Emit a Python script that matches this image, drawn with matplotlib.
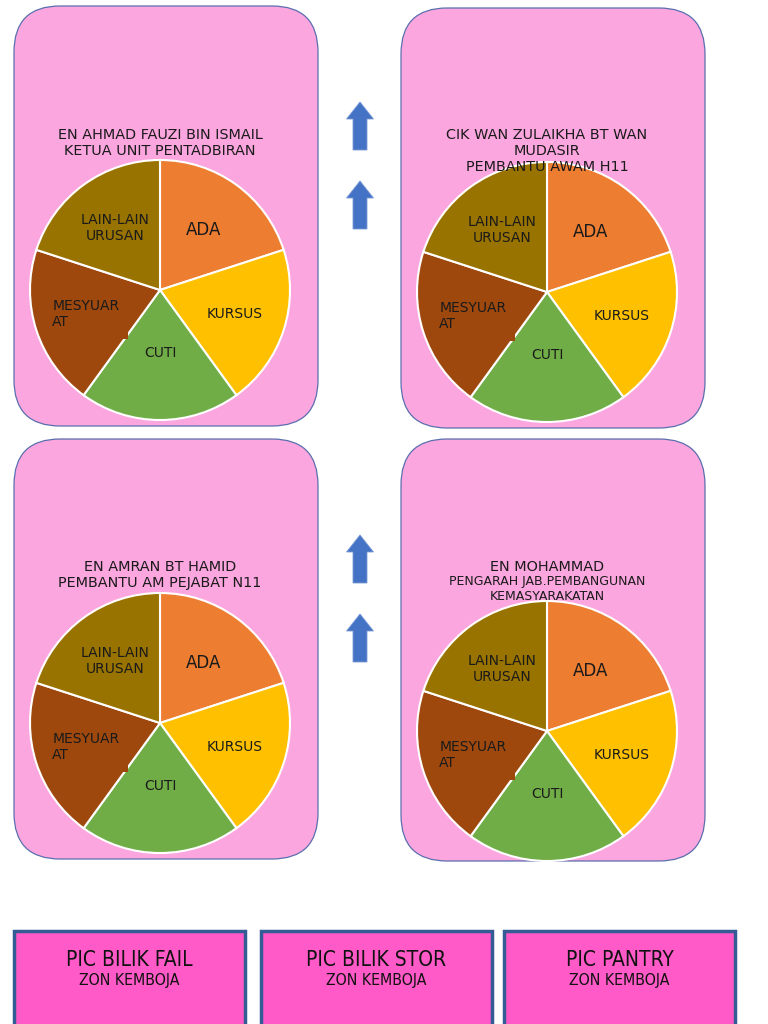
import matplotlib.pyplot as plt
from matplotlib.patches import FancyBboxPatch, FancyArrow, Rectangle

# ---------------- data ----------------
slice_labels = ["ADA", "KURSUS", "CUTI", "MESYUAR\nAT", "LAIN-LAIN\nURUSAN"]
slice_values = [1, 1, 1, 1, 1]
slice_colors = ["#ED7D31", "#FFC000", "#70AD47", "#9E480E", "#997300"]

staff_titles = [
    "EN AHMAD FAUZI BIN ISMAIL\nKETUA UNIT PENTADBIRAN",
    "CIK WAN ZULAIKHA BT WAN\nMUDASIR\nPEMBANTU AWAM H11",
    "EN AMRAN BT HAMID\nPEMBANTU AM PEJABAT N11",
    "EN MOHAMMAD",
]
staff_subtitle_4 = "PENGARAH JAB.PEMBANGUNAN\nKEMASYARAKATAN"

pic_titles = ["PIC BILIK FAIL", "PIC BILIK STOR", "PIC PANTRY"]
pic_zone = "ZON KEMBOJA"

# ---------------- layout (pixels) ----------------
W, H = 768, 1024
fig = plt.figure(figsize=(W / 100, H / 100), dpi=100)
bg = fig.add_axes([0, 0, 1, 1])
bg.set_xlim(0, W)
bg.set_ylim(H, 0)
bg.axis("off")

panels = [(14, 6, 304, 420), (401, 8, 304, 420), (14, 439, 304, 420), (401, 439, 304, 422)]
pie_centers = [(160, 290), (547, 292), (160, 723), (547, 731)]
title_y = [128, 128, 560, 560]
label_dist = [0.57, 0.60, 0.485, 0.60, 0.59]
R = 130

for (x, y, w, h) in panels:
    bg.add_patch(FancyBboxPatch((x, y), w, h, boxstyle="round,pad=0,rounding_size=46",
                                facecolor="#FCA6DF", edgecolor="#5B6FAE", linewidth=0.9))

for i, (cx, cy) in enumerate(pie_centers):
    pax = fig.add_axes([(cx - R) / W, 1 - (cy + R) / H, 2 * R / W, 2 * R / H])
    wedges, texts = pax.pie(slice_values, labels=slice_labels, colors=slice_colors,
                            startangle=90, counterclock=False, labeldistance=1.0,
                            wedgeprops=dict(edgecolor="white", linewidth=1.5))
    for t, d in zip(texts, label_dist):
        px, py = t.get_position()
        t.set_position((px * d, py * d))
        t.set_ha("center")
        t.set_va("center")
        t.set_fontsize(10)
        t.set_color("#1A1A1A")
    texts[0].set_fontsize(12)
    texts[3].set_multialignment("left")
    # small notch seen inside MESYUARAT slice
    pax.add_patch(Rectangle((-0.3, -0.38), 0.05, 0.08, facecolor=slice_colors[3], edgecolor="none"))
    pax.set_xlim(-1, 1)
    pax.set_ylim(-1, 1)

# overlay for names so they sit above the pies
top = fig.add_axes([0, 0, 1, 1])
top.set_xlim(0, W)
top.set_ylim(H, 0)
top.axis("off")
for i, t in enumerate(staff_titles):
    cx = pie_centers[i][0]
    top.text(cx, title_y[i], t, ha="center", va="top", fontsize=10.4,
             color="#1A1A1A", linespacing=1.2)
top.text(pie_centers[3][0], 575, staff_subtitle_4, ha="center", va="top", fontsize=9,
         color="#1A1A1A", linespacing=1.15)

# up arrows between columns
arrow_spans = [(150, 102), (229, 181), (583, 535), (662, 614)]
for (y0, y1) in arrow_spans:
    top.add_patch(FancyArrow(360, y0, 0, y1 - y0, width=14, head_width=27, head_length=17,
                             length_includes_head=True, facecolor="#4472C4",
                             edgecolor="#7C9BD6", linewidth=0.6))

# bottom boxes
boxes = [(14, 931, 231), (261, 931, 231), (504, 931, 231)]
for (x, y, w), t in zip(boxes, pic_titles):
    top.add_patch(Rectangle((x, y), w, 120, facecolor="#FF5AC8", edgecolor="#335C95", linewidth=2.5))
    top.text(x + w / 2, 960, t, ha="center", va="center", fontsize=15,
             fontstretch="condensed", color="#111111")
    top.text(x + w / 2, 980, pic_zone, ha="center", va="center", fontsize=11.3,
             fontstretch="condensed", color="#111111")

fig.savefig("out.png", dpi=100)
